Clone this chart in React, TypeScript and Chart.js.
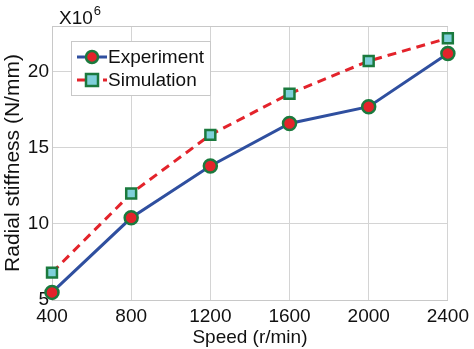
import React, { useEffect, useRef } from "react";
import { Chart, registerables } from "chart.js";
Chart.register(...registerables);

const speeds = [400, 800, 1200, 1600, 2000, 2400];
const experiment = [5.5, 10.4, 13.8, 16.6, 17.7, 21.2];
const simulation = [6.8, 12.0, 15.85, 18.55, 20.7, 22.2];
const yTicks = [5, 10, 15, 20];
const xTicks = [400, 800, 1200, 1600, 2000, 2400];

const BLUE = "#2f4f9f";
const RED = "#e3232b";
const GREEN = "#1b7a3e";
const CYAN = "#7fd0da";
const FONT = "Liberation Sans, Arial, sans-serif";

const overlayPlugin = {
  id: "overlay",
  afterDraw(chart: any) {
    const ctx = chart.ctx;
    ctx.save();
    ctx.fillStyle = "#111";
    ctx.textBaseline = "middle";
    ctx.textAlign = "left";
    ctx.font = `19px ${FONT}`;
    ctx.fillText("X10", 59, 19);
    const w = ctx.measureText("X10").width;
    ctx.font = `13px ${FONT}`;
    ctx.fillText("6", 59 + w + 1, 11);

    const lx = 71, ly = 41, lw = 139, lh = 54;
    ctx.fillStyle = "#fff";
    ctx.fillRect(lx, ly, lw, lh);
    ctx.strokeStyle = "#c8c8c8";
    ctx.lineWidth = 1;
    ctx.strokeRect(lx + 0.5, ly + 0.5, lw, lh);
    const rows = [
      { label: "Experiment", color: BLUE, dash: [] as number[], y: 57, marker: "circle" },
      { label: "Simulation", color: RED, dash: [8, 5], y: 80, marker: "square" },
    ];
    rows.forEach((r) => {
      ctx.strokeStyle = r.color;
      ctx.lineWidth = 3;
      ctx.setLineDash(r.dash);
      ctx.beginPath();
      ctx.moveTo(77, r.y);
      ctx.lineTo(107, r.y);
      ctx.stroke();
      ctx.setLineDash([]);
      ctx.lineWidth = 2.5;
      ctx.strokeStyle = GREEN;
      if (r.marker === "circle") {
        ctx.fillStyle = RED;
        ctx.beginPath();
        ctx.arc(92, r.y, 6, 0, Math.PI * 2);
        ctx.fill();
        ctx.stroke();
      } else {
        ctx.fillStyle = CYAN;
        ctx.fillRect(86, r.y - 6, 12, 12);
        ctx.strokeRect(86, r.y - 6, 12, 12);
      }
      ctx.fillStyle = "#111";
      ctx.font = `19px ${FONT}`;
      ctx.textAlign = "left";
      ctx.textBaseline = "middle";
      ctx.fillText(r.label, 108, r.y + 1);
    });
    ctx.restore();
  },
};

export default function App() {
  const ref = useRef<HTMLCanvasElement | null>(null);
  useEffect(() => {
    if (!ref.current) return;
    const chart = new Chart(ref.current, {
      type: "line",
      data: {
        datasets: [
          {
            label: "Simulation",
            data: speeds.map((s, i) => ({ x: s, y: simulation[i] })),
            borderColor: RED,
            borderWidth: 3,
            borderDash: [9, 6],
            pointStyle: "rect",
            pointRadius: 7,
            pointBorderWidth: 2.5,
            pointBackgroundColor: CYAN,
            pointBorderColor: GREEN,
            tension: 0,
          },
          {
            label: "Experiment",
            data: speeds.map((s, i) => ({ x: s, y: experiment[i] })),
            borderColor: BLUE,
            borderWidth: 3,
            pointStyle: "circle",
            pointRadius: 6.5,
            pointBorderWidth: 2.5,
            pointBackgroundColor: RED,
            pointBorderColor: GREEN,
            tension: 0,
          },
        ],
      },
      options: {
        animation: false,
        responsive: false,
        clip: false as any,
        layout: { padding: { left: 0, right: 22, top: 26, bottom: 0 } },
        plugins: { legend: { display: false }, tooltip: { enabled: false } },
        scales: {
          x: {
            type: "linear",
            min: 400,
            max: 2400,
            afterBuildTicks: (s: any) => {
              s.ticks = xTicks.map((v) => ({ value: v }));
            },
            afterFit: (s: any) => {
              s.height = 49;
            },
            grid: { color: "#d4d4d4", drawTicks: false, lineWidth: 1 },
            border: { color: "#c8c8c8" },
            ticks: {
              color: "#111",
              font: { family: FONT, size: 19 },
              padding: 5,
              maxRotation: 0,
              callback: (v: any) => String(v),
            },
            title: {
              display: true,
              text: "Speed (r/min)",
              color: "#111",
              font: { family: FONT, size: 19 },
              padding: { top: 0, bottom: 0 },
            },
          },
          y: {
            type: "linear",
            min: 5,
            max: 23,
            afterBuildTicks: (s: any) => {
              s.ticks = yTicks.map((v) => ({ value: v }));
            },
            afterFit: (s: any) => {
              s.width = 52;
            },
            grid: { color: "#d4d4d4", drawTicks: false, lineWidth: 1 },
            border: { color: "#c8c8c8" },
            ticks: {
              color: "#111",
              font: { family: FONT, size: 19 },
              padding: 3,
              callback: (v: any) => String(v),
            },
            title: {
              display: true,
              text: "Radial stiffness (N/mm)",
              color: "#111",
              font: { family: FONT, size: 21 },
              padding: { top: 1, bottom: 0 },
            },
          },
        },
      },
      plugins: [
        overlayPlugin,
        {
          id: "frame",
          beforeDatasetsDraw(chart: any) {
            const { ctx, chartArea: a } = chart;
            ctx.save();
            ctx.strokeStyle = "#c8c8c8";
            ctx.lineWidth = 1;
            ctx.beginPath();
            ctx.moveTo(a.left, Math.round(a.top) + 0.5);
            ctx.lineTo(a.right, Math.round(a.top) + 0.5);
            ctx.stroke();
            ctx.restore();
          },
        },
      ],
    } as any);
    return () => chart.destroy();
  }, []);
  return (
    <div style={{ position: "absolute", left: 0, top: 0, width: 474, height: 349, background: "#fff" }}>
      <canvas ref={ref} width={474} height={349} />
    </div>
  );
}
